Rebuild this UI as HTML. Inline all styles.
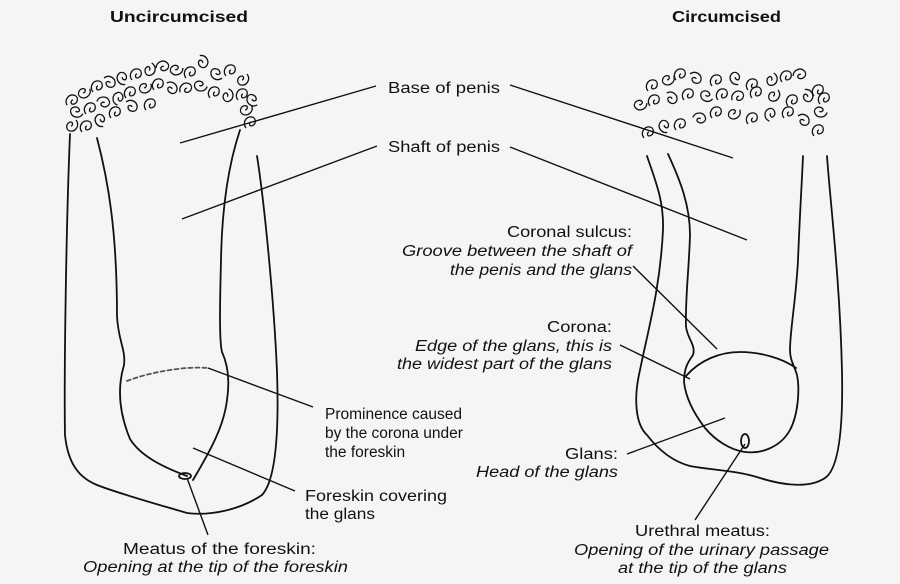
<!DOCTYPE html>
<html><head><meta charset="utf-8"><style>
html,body{margin:0;padding:0;background:#f5f5f4;}
svg{display:block;}
text{font-family:"Liberation Sans",sans-serif;font-size:15.5px;fill:#111;}
.i{font-style:italic;}
.b{font-weight:bold;font-size:16px;}
</style></head><body>
<svg width="900" height="584" viewBox="0 0 900 584" xmlns="http://www.w3.org/2000/svg">
<defs>
<path id="c" d="M-4,6 C-8,1 -4,-6 2,-5 C7,-4 6,4 1,4 C-1,4 -1,0 1,0" fill="none" stroke="#111" stroke-width="1.3"/>
</defs>
<rect width="900" height="584" fill="#f5f5f4"/>
<text class="b" x="110" y="22" textLength="138" lengthAdjust="spacingAndGlyphs">Uncircumcised</text>
<text class="b" x="672" y="22" textLength="109" lengthAdjust="spacingAndGlyphs">Circumcised</text>

<g fill="none" stroke="#111" stroke-width="1.8" stroke-linecap="round" stroke-linejoin="round">
<path d="M70,134 C66,230 64,380 65,435 C68,465 80,478 97,485 C120,494 160,505 187,513 C210,516 240,510 262,495 C276,480 279,430 277,372 C274,300 264,200 257,156"/>
<path d="M97,138 C108,180 117,230 117,316 C118,340 126,350 124,365 C118,385 118,410 130,439 C140,455 160,466 187,476"/>
<path d="M240,130 C230,160 222,200 221,260 C220,300 219,340 222,352 C228,365 230,380 227,400 C224,425 212,448 193,480"/>
<ellipse cx="185" cy="476" rx="6" ry="3"/>
<path d="M127,381 C150,372 185,366 208,368" stroke-dasharray="4,3" stroke="#555"/>
<path d="M647,156 C655,180 664,200 663,230 C660,290 648,330 640,370 C633,400 636,425 647,435 C660,452 675,462 690,466 C710,470 735,470 760,478 C785,486 810,488 825,478 C840,468 843,420 842,372 C840,280 830,200 827,156"/>
<path d="M668,154 C680,180 690,205 690,235 C689,270 685,300 686,327 C688,340 696,345 693,355 C688,362 684,368 684,382 C686,400 695,415 705,428 C715,440 730,450 745,452 C760,454 780,448 790,430 C798,415 800,390 797,375 C794,365 790,360 790,350 C790,330 796,300 798,260 C800,210 802,180 803,156"/>
<path d="M686,376 C700,360 720,352 740,352 C760,352 782,358 796,368"/>
<ellipse cx="745" cy="441" rx="4" ry="7"/>
</g>

<g>
<use href="#c" transform="translate(72,100) rotate(10)"/><use href="#c" transform="translate(84,93) rotate(200)"/>
<use href="#c" transform="translate(97,86)"/><use href="#c" transform="translate(110,82) rotate(90)"/>
<use href="#c" transform="translate(122,78) rotate(300)"/><use href="#c" transform="translate(136,74)"/>
<use href="#c" transform="translate(150,70) rotate(160)"/><use href="#c" transform="translate(163,66) rotate(40)"/>
<use href="#c" transform="translate(176,70) rotate(220)"/><use href="#c" transform="translate(190,72)"/>
<use href="#c" transform="translate(203,62) rotate(120)"/><use href="#c" transform="translate(216,74) rotate(270)"/>
<use href="#c" transform="translate(230,70)"/><use href="#c" transform="translate(243,80) rotate(180)"/>
<use href="#c" transform="translate(76,112) rotate(250)"/><use href="#c" transform="translate(90,108)"/>
<use href="#c" transform="translate(104,102) rotate(60)"/><use href="#c" transform="translate(118,98) rotate(330)"/>
<use href="#c" transform="translate(130,92)"/><use href="#c" transform="translate(145,88) rotate(200)"/>
<use href="#c" transform="translate(158,84)"/><use href="#c" transform="translate(172,88) rotate(100)"/>
<use href="#c" transform="translate(186,88) rotate(20)"/><use href="#c" transform="translate(200,86) rotate(240)"/>
<use href="#c" transform="translate(214,92)"/><use href="#c" transform="translate(228,96) rotate(150)"/>
<use href="#c" transform="translate(242,94)"/><use href="#c" transform="translate(252,100) rotate(280)"/>
<use href="#c" transform="translate(72,126) rotate(180)"/><use href="#c" transform="translate(86,126)"/>
<use href="#c" transform="translate(100,120) rotate(300)"/><use href="#c" transform="translate(115,112)"/>
<use href="#c" transform="translate(132,106) rotate(90)"/><use href="#c" transform="translate(150,104)"/>
<use href="#c" transform="translate(246,110) rotate(200)"/><use href="#c" transform="translate(250,122)"/>
<use href="#c" transform="translate(652,85)"/><use href="#c" transform="translate(668,80) rotate(200)"/>
<use href="#c" transform="translate(680,74)"/><use href="#c" transform="translate(696,78) rotate(90)"/>
<use href="#c" transform="translate(716,80)"/><use href="#c" transform="translate(735,78) rotate(300)"/>
<use href="#c" transform="translate(752,84)"/><use href="#c" transform="translate(772,80) rotate(160)"/>
<use href="#c" transform="translate(786,76)"/><use href="#c" transform="translate(800,74) rotate(40)"/>
<use href="#c" transform="translate(818,90)"/><use href="#c" transform="translate(640,105) rotate(220)"/>
<use href="#c" transform="translate(654,100)"/><use href="#c" transform="translate(672,98) rotate(100)"/>
<use href="#c" transform="translate(688,94)"/><use href="#c" transform="translate(706,96) rotate(260)"/>
<use href="#c" transform="translate(722,94)"/><use href="#c" transform="translate(738,96) rotate(20)"/>
<use href="#c" transform="translate(756,92)"/><use href="#c" transform="translate(774,96) rotate(180)"/>
<use href="#c" transform="translate(792,100)"/><use href="#c" transform="translate(808,96) rotate(120)"/>
<use href="#c" transform="translate(824,98)"/><use href="#c" transform="translate(648,132)"/>
<use href="#c" transform="translate(664,126) rotate(300)"/><use href="#c" transform="translate(680,124)"/>
<use href="#c" transform="translate(700,118) rotate(60)"/><use href="#c" transform="translate(716,112)"/>
<use href="#c" transform="translate(734,114) rotate(200)"/><use href="#c" transform="translate(752,118)"/>
<use href="#c" transform="translate(770,114) rotate(330)"/><use href="#c" transform="translate(788,112)"/>
<use href="#c" transform="translate(804,120) rotate(90)"/><use href="#c" transform="translate(818,130)"/>
<use href="#c" transform="translate(820,112) rotate(240)"/>
</g>

<g stroke="#111" stroke-width="1.4" fill="none">
<line x1="180" y1="143" x2="376" y2="86"/>
<line x1="182" y1="219" x2="377" y2="146"/>
<line x1="510" y1="85" x2="733" y2="158"/>
<line x1="510" y1="147" x2="747" y2="240"/>
<line x1="208" y1="368" x2="313" y2="407"/>
<line x1="193" y1="448" x2="295" y2="491"/>
<line x1="187" y1="478" x2="208" y2="535"/>
<line x1="633" y1="266" x2="717" y2="349"/>
<line x1="620" y1="345" x2="690" y2="379"/>
<line x1="627" y1="454" x2="725" y2="418"/>
<line x1="695" y1="520" x2="745" y2="444"/>
</g>

<text x="388" y="93" textLength="112" lengthAdjust="spacingAndGlyphs">Base of penis</text>
<text x="388" y="152" textLength="112" lengthAdjust="spacingAndGlyphs">Shaft of penis</text>
<text x="325" y="419">Prominence caused</text>
<text x="325" y="438">by the corona under</text>
<text x="325" y="457">the foreskin</text>
<text x="305" y="501" textLength="142" lengthAdjust="spacingAndGlyphs">Foreskin covering</text>
<text x="305" y="519" textLength="70" lengthAdjust="spacingAndGlyphs">the glans</text>
<text x="123" y="554" textLength="193" lengthAdjust="spacingAndGlyphs">Meatus of the foreskin:</text>
<text class="i" x="83" y="572" textLength="265" lengthAdjust="spacingAndGlyphs">Opening at the tip of the foreskin</text>

<text x="507" y="237" textLength="125" lengthAdjust="spacingAndGlyphs">Coronal sulcus:</text>
<text class="i" x="402" y="256" textLength="230" lengthAdjust="spacingAndGlyphs">Groove between the shaft of</text>
<text class="i" x="450" y="275" textLength="182" lengthAdjust="spacingAndGlyphs">the penis and the glans</text>
<text x="547" y="332" textLength="65" lengthAdjust="spacingAndGlyphs">Corona:</text>
<text class="i" x="415" y="351" textLength="197" lengthAdjust="spacingAndGlyphs">Edge of the glans, this is</text>
<text class="i" x="397" y="369" textLength="215" lengthAdjust="spacingAndGlyphs">the widest part of the glans</text>
<text x="565" y="459" textLength="53" lengthAdjust="spacingAndGlyphs">Glans:</text>
<text class="i" x="476" y="477" textLength="142" lengthAdjust="spacingAndGlyphs">Head of the glans</text>
<text x="635" y="536" textLength="135" lengthAdjust="spacingAndGlyphs">Urethral meatus:</text>
<text class="i" x="574" y="555" textLength="255" lengthAdjust="spacingAndGlyphs">Opening of the urinary passage</text>
<text class="i" x="618" y="573" textLength="169" lengthAdjust="spacingAndGlyphs">at the tip of the glans</text>
</svg>
</body></html>
